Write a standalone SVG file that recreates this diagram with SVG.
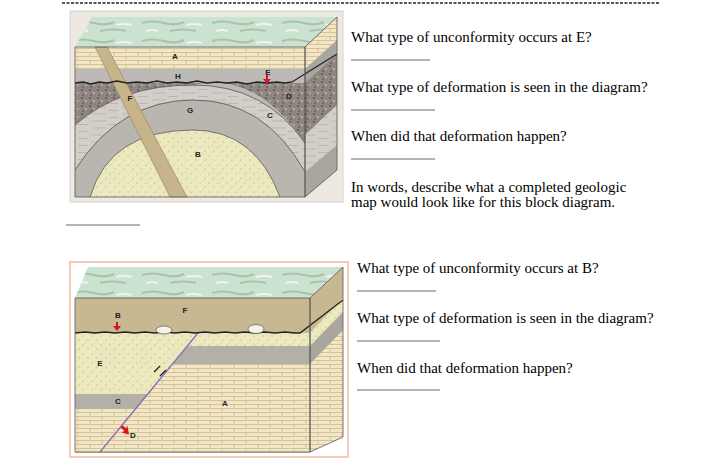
<svg xmlns="http://www.w3.org/2000/svg" width="723" height="469" viewBox="0 0 723 469">
<defs>
<pattern id="brick" width="24" height="8" patternUnits="userSpaceOnUse">
<rect width="24" height="8" fill="#f3e6c4"/>
<path d="M0 0.5H24M0 4.5H24M6 0.5V4.5M18 4.5V8" stroke="#c9b58a" stroke-width="0.7" fill="none"/>
</pattern>
<pattern id="cong" width="8" height="8" patternUnits="userSpaceOnUse">
<rect width="8" height="8" fill="#8f8682"/>
<circle cx="2" cy="2" r="1" fill="#5b5350"/><circle cx="6" cy="5" r="1.1" fill="#b4aca6"/><circle cx="3" cy="7" r="0.8" fill="#4f4845"/>
</pattern>
<pattern id="sand" width="9" height="9" patternUnits="userSpaceOnUse">
<rect width="9" height="9" fill="#ece9bf"/>
<circle cx="2" cy="3" r="0.6" fill="#9c9a70"/><circle cx="7" cy="7" r="0.6" fill="#9c9a70"/><circle cx="5" cy="1" r="0.4" fill="#c8b070"/>
</pattern>
<pattern id="shale" width="30" height="7" patternUnits="userSpaceOnUse">
<rect width="30" height="7" fill="#d2cec8"/>
<path d="M2 2H16M18 5.5H28" stroke="#aaa59f" stroke-width="0.6"/>
</pattern>
<pattern id="topo" width="70" height="18" patternUnits="userSpaceOnUse">
<rect width="70" height="18" fill="#c9e3d0"/>
<path d="M2 5q10-3 22 0t20 -1M30 13q12-3 26 0" stroke="#a5b89f" stroke-width="2.2" fill="none" opacity="0.8"/>
<path d="M46 7q8-2 16 0M6 13q6-2 12 0" stroke="#f4f2ea" stroke-width="2" fill="none"/>
</pattern>
<style>
.q{font-family:"Liberation Serif",serif;font-size:15px;fill:#000}
.lb{font-family:"Liberation Sans",Arial,sans-serif;font-size:8px;font-weight:bold;fill:#222;text-anchor:middle}
.ul{stroke:#444;stroke-width:0.8}
.edge{fill:none;stroke:#555;stroke-width:0.8}
</style>
</defs>
<rect width="723" height="469" fill="#fff"/>
<line x1="62" y1="3" x2="660" y2="3" stroke="#222" stroke-width="1.5" stroke-dasharray="3,1.5"/>

<g id="block1">
<rect x="70" y="11" width="273" height="191" fill="#ede9e2" stroke="#d8d4cc"/>
<polygon points="75,47 305,47 337,17 92,17" fill="url(#topo)"/>
<polygon points="305,47 337,17 337,170 305,197" fill="#a9a6a0"/>
<polygon points="305,47 337,17 337,40 305,69" fill="url(#brick)"/>
<polygon points="305,83 337,54 337,105 305,135" fill="url(#cong)"/>
<polygon points="305,135 337,105 337,145 305,172" fill="url(#shale)"/>
<rect x="75" y="47" width="230" height="150" fill="#bdbab4"/>
<rect x="75" y="47" width="230" height="22" fill="url(#brick)"/>
<rect x="75" y="69" width="230" height="14" fill="#bcbab6"/>
<path d="M75 83L305 83L305 143Q255 70 193 85Q120 90 75 125Z" fill="url(#cong)"/>
<path d="M75 125Q120 85 193 85Q265 85 305 143L305 172Q255 95 193 100Q120 100 75 170Z" fill="url(#shale)"/>
<path d="M75 170Q120 100 193 100Q265 100 305 172L305 197L75 197Z" fill="#b9b6b0"/>
<path d="M90 197Q110 130 193 130Q255 130 280 197Z" fill="url(#sand)"/>
<path d="M75 125Q120 85 193 85Q265 85 305 143M75 170Q120 100 193 100Q265 100 305 172M90 197Q110 130 193 130Q255 130 280 197" class="edge"/>
<polygon points="95,47 107,47 187,197 170,197" fill="#c8b48a" stroke="#8f7f5c" stroke-width="0.6"/>
<path d="M75 83l8-1 8 2 8-2 8 1 10-2 10 2 10-1 10 1 10-2 10 2 10-1 10 1 10-2 10 2 10-1 10 1 10-1 10 2 10-2 10 1 10-1 8 1 7-1L337 54" fill="none" stroke="#222" stroke-width="1.3"/>
<polygon points="75,47 305,47 305,197 75,197" class="edge"/>
<polygon points="305,47 337,17 337,170 305,197" class="edge"/>
<path d="M266 75v4h-3l4 5 4-5h-3v-4z" fill="#d8141c"/>
<text class="lb" x="175" y="59">A</text>
<text class="lb" x="178" y="79">H</text>
<text class="lb" x="268" y="75">E</text>
<text class="lb" x="289" y="99">D</text>
<text class="lb" x="130" y="101">F</text>
<text class="lb" x="190" y="113">G</text>
<text class="lb" x="270" y="118">C</text>
<text class="lb" x="198" y="157">B</text>
</g>

<line x1="66" y1="225" x2="140" y2="225" class="ul"/>

<g id="block2">
<rect x="70" y="262" width="278" height="195" fill="#fff" stroke="#f2b99c" stroke-width="1.5"/>
<polygon points="75,298 310,298 343,267 88,267" fill="url(#topo)"/>
<polygon points="310,298 343,267 343,437 310,452" fill="url(#brick)"/>
<polygon points="310,298 343,267 343,298 310,333" fill="#c8b891"/>
<polygon points="310,333 343,298 343,312 310,346" fill="url(#sand)"/>
<polygon points="310,346 343,312 343,330 310,364" fill="#a9a6a0"/>
<rect x="75" y="298" width="235" height="155" fill="url(#brick)"/>
<rect x="75" y="298" width="235" height="35" fill="#c8b891"/>
<path d="M198 333H310V346H187Z" fill="url(#sand)"/>
<path d="M187 346H310V364H172Z" fill="#b3b0aa"/>
<path d="M75 333H198L148 394H75Z" fill="url(#sand)"/>
<path d="M75 394H148L136 409H75Z" fill="#b3b0aa"/>
<line x1="198" y1="333" x2="100" y2="452" stroke="#8b6cb8" stroke-width="1.3"/>
<path d="M75 333l10-1 10 1 10-1 10 1 10-1 10 1 10-1 10 1 10-1 10 1 10-1 10 1 10-1 10 1 10-1 10 1 10-1 10 1 10-1 10 1 10-1 10 1 5 0L343 300" fill="none" stroke="#222" stroke-width="1.3"/>
<ellipse cx="164" cy="330" rx="8" ry="4" fill="#f5f2e6" stroke="#555" stroke-width="0.7"/>
<ellipse cx="256" cy="329" rx="8" ry="4.5" fill="#f5f2e6" stroke="#555" stroke-width="0.7"/>
<path d="M154 372l6-6M160 376l6-6" stroke="#222" stroke-width="1.3"/>
<path d="M116 322v4h-3l4 5 4-5h-3v-4z" fill="#d8141c"/>
<path d="M120 428l5 0-1-3 7 6-7 3 1-3-5 0z" fill="#d8141c" transform="rotate(40 125 430)"/>
<polygon points="75,298 310,298 310,452 75,452" class="edge"/>
<polygon points="310,298 343,267 343,437 310,452" class="edge"/>
<text class="lb" x="185" y="313">F</text>
<text class="lb" x="118" y="318">B</text>
<text class="lb" x="100" y="366">E</text>
<text class="lb" x="118" y="404">C</text>
<text class="lb" x="225" y="406">A</text>
<text class="lb" x="133" y="438">D</text>
</g>

<g id="q1">
<text class="q" x="351" y="42">What type of unconformity occurs at E?</text>
<line x1="351" y1="60" x2="430" y2="60" class="ul"/>
<text class="q" x="351" y="92">What type of deformation is seen in the diagram?</text>
<line x1="351" y1="110" x2="435" y2="110" class="ul"/>
<text class="q" x="351" y="141">When did that deformation happen?</text>
<line x1="351" y1="159" x2="435" y2="159" class="ul"/>
<text class="q" x="351" y="192">In words, describe what a completed geologic</text>
<text class="q" x="351" y="207">map would look like for this block diagram.</text>
</g>
<g id="q2">
<text class="q" x="357" y="273">What type of unconformity occurs at B?</text>
<line x1="357" y1="291" x2="436" y2="291" class="ul"/>
<text class="q" x="357" y="323">What type of deformation is seen in the diagram?</text>
<line x1="357" y1="341" x2="440" y2="341" class="ul"/>
<text class="q" x="357" y="373">When did that deformation happen?</text>
<line x1="357" y1="390" x2="440" y2="390" class="ul"/>
</g>
</svg>
